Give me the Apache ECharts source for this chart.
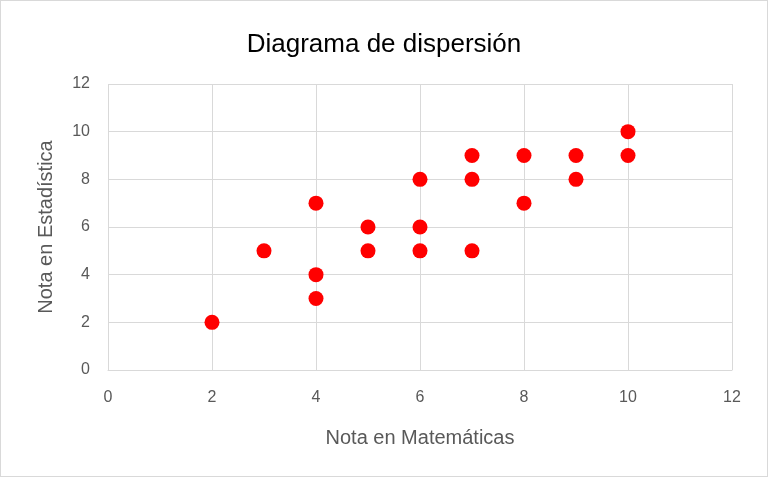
<!DOCTYPE html>
<html>
<head>
<meta charset="utf-8">
<script src="https://cdn.jsdelivr.net/npm/echarts@6/dist/echarts.min.js"></script>
<style>
  html, body { margin: 0; padding: 0; background: #fff; }
  #main { width: 766px; height: 475px; border: 1px solid #d9d9d9; }
</style>
</head>
<body>
<div id="main"></div>
<script>
// Nota en Matemáticas / Nota en Estadística
var notaMatematicas = [2, 3, 4, 4, 4, 5, 5, 6, 6, 6, 7, 7, 7, 8, 8, 9, 9, 10, 10];
var notaEstadistica = [2, 5, 7, 4, 3, 6, 5, 8, 6, 5, 9, 8, 5, 9, 7, 9, 8, 10, 9];

var points = notaMatematicas.map(function(x, i) {
    return [x, notaEstadistica[i]];
});

var myChart = echarts.init(document.getElementById('main'));
var axisText = { color: '#595959', fontSize: 16, fontFamily: 'Liberation Sans' };

myChart.setOption({
    animation: false,
    title: {
        text: 'Diagrama de dispersión',
        left: 'center',
        top: 26,
        textStyle: { fontSize: 26, fontWeight: 'normal', color: '#000', fontFamily: 'Liberation Sans' }
    },
    grid: { left: 107, right: 35, top: 83, bottom: 106 },
    xAxis: {
        type: 'value',
        min: 0, max: 12, interval: 2,
        name: 'Nota en Matemáticas',
        nameLocation: 'middle',
        nameGap: 58,
        nameTextStyle: { color: '#595959', fontSize: 20, fontFamily: 'Liberation Sans' },
        axisLine: { show: true, lineStyle: { color: '#d9d9d9' } },
        axisTick: { show: false },
        axisLabel: Object.assign({ margin: 20 }, axisText),
        splitLine: { show: true, lineStyle: { color: '#d9d9d9' } }
    },
    yAxis: {
        type: 'value',
        min: 0, max: 12, interval: 2,
        name: 'Nota en Estadística',
        nameLocation: 'middle',
        nameGap: 52,
        nameTextStyle: { color: '#595959', fontSize: 20, fontFamily: 'Liberation Sans' },
        axisLine: { show: false },
        axisTick: { show: false },
        axisLabel: Object.assign({ margin: 18 }, axisText),
        splitLine: { show: true, lineStyle: { color: '#d9d9d9' } }
    },
    series: [{
        type: 'scatter',
        data: points,
        symbolSize: 15,
        itemStyle: { color: '#ff0000', opacity: 1 }
    }]
});
</script>
</body>
</html>
